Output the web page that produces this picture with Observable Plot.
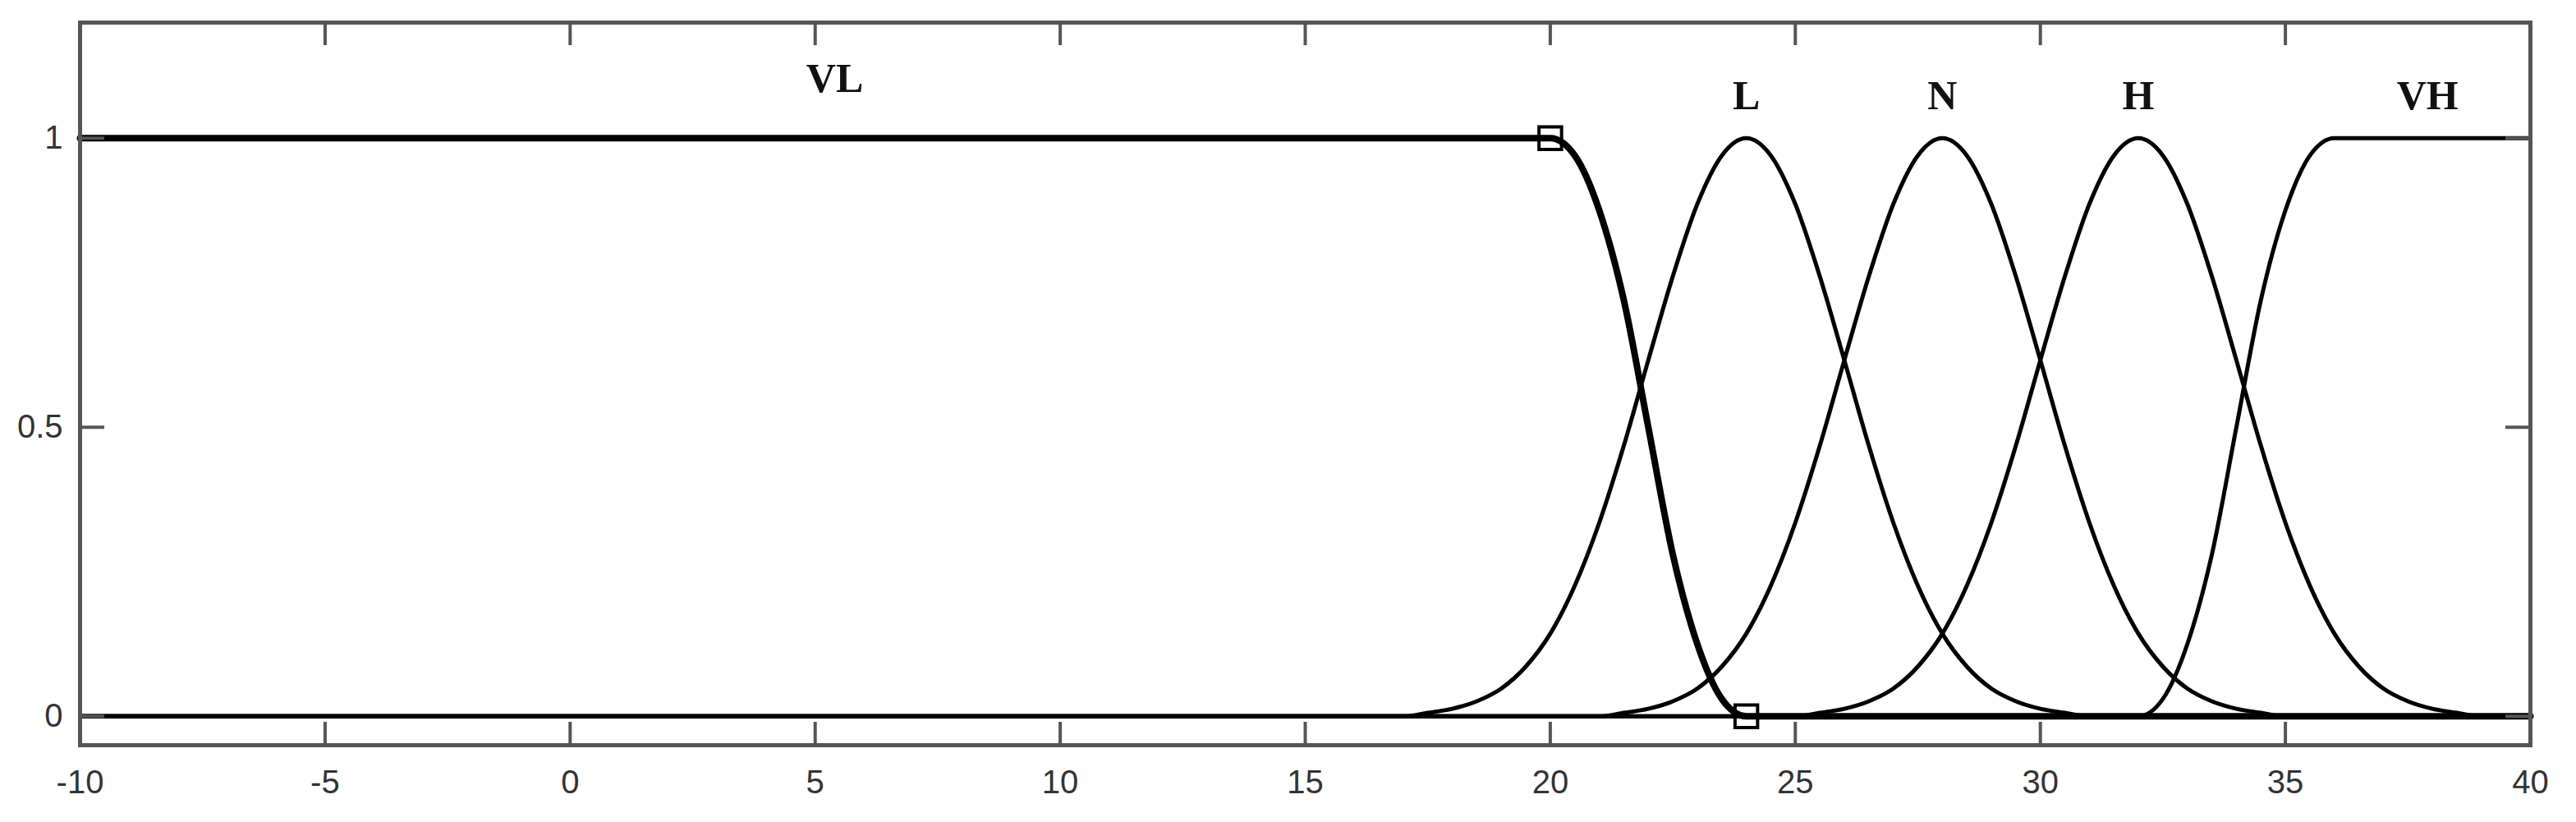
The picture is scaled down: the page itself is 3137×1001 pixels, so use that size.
<!DOCTYPE html>
<html>
<head>
<meta charset="utf-8">
<script src="https://cdn.jsdelivr.net/npm/d3@7"></script>
<script src="https://cdn.jsdelivr.net/npm/@observablehq/plot@0.6"></script>
<style>
  html, body { margin: 0; padding: 0; background: #fff; }
  #chart svg { display: block; }
</style>
</head>
<body>
<div id="chart"></div>
<script>
// ---- data ----
const xDomain = [-10, 40];
const yDomain = [-0.05, 1.2];
const xTicks = [-10, -5, 0, 5, 10, 15, 20, 25, 30, 35, 40];
const yTicks = [0, 0.5, 1];
const yTickLabels = ["0", "0.5", "1"];

// VL (selected, Z-shaped 20 -> 24)
const vlX = [-10, 20, 20.5, 21, 21.5, 22, 22.5, 23, 23.5, 24, 40];
const vlY = [1, 1, 0.97, 0.875, 0.72, 0.5, 0.28, 0.125, 0.03, 0, 0];

// L (bell centred at 24)
const lX = [-10, 17, 17.5, 18, 18.5, 19, 19.5, 20, 20.5, 21, 21.5, 22, 22.5, 23, 23.5, 24,
            24.5, 25, 25.5, 26, 26.5, 27, 27.5, 28, 28.5, 29, 29.5, 30, 30.5, 31, 40];
const lY = [0, 0, 0.006, 0.013, 0.026, 0.048, 0.086, 0.143, 0.226, 0.335, 0.468, 0.616, 0.761, 0.886, 0.97, 1,
            0.97, 0.886, 0.761, 0.616, 0.468, 0.335, 0.226, 0.143, 0.086, 0.048, 0.026, 0.013, 0.006, 0, 0];

// N (bell centred at 28)
const nX = [-10, 21, 21.5, 22, 22.5, 23, 23.5, 24, 24.5, 25, 25.5, 26, 26.5, 27, 27.5, 28,
            28.5, 29, 29.5, 30, 30.5, 31, 31.5, 32, 32.5, 33, 33.5, 34, 34.5, 35, 40];
const nY = [0, 0, 0.006, 0.013, 0.026, 0.048, 0.086, 0.143, 0.226, 0.335, 0.468, 0.616, 0.761, 0.886, 0.97, 1,
            0.97, 0.886, 0.761, 0.616, 0.468, 0.335, 0.226, 0.143, 0.086, 0.048, 0.026, 0.013, 0.006, 0, 0];

// H (bell centred at 32)
const hX = [-10, 25, 25.5, 26, 26.5, 27, 27.5, 28, 28.5, 29, 29.5, 30, 30.5, 31, 31.5, 32,
            32.5, 33, 33.5, 34, 34.5, 35, 35.5, 36, 36.5, 37, 37.5, 38, 38.5, 39, 40];
const hY = [0, 0, 0.006, 0.013, 0.026, 0.048, 0.086, 0.143, 0.226, 0.335, 0.468, 0.616, 0.761, 0.886, 0.97, 1,
            0.97, 0.886, 0.761, 0.616, 0.468, 0.335, 0.226, 0.143, 0.086, 0.048, 0.026, 0.013, 0.006, 0, 0];

// VH (S-shaped 32 -> 36)
const vhX = [-10, 32, 32.5, 33, 33.5, 34, 34.5, 35, 35.5, 36, 40];
const vhY = [0, 0, 0.03, 0.125, 0.28, 0.5, 0.72, 0.875, 0.97, 1, 1];

// handles of the selected MF
const handleX = [20, 24];
const handleY = [1, 0];

// membership function names and label anchors (data units)
const mfNames = ["VL", "L", "N", "H", "VH"];
const labelX = [5.4, 24, 28, 32, 37.9];
const labelY = [1.08, 1.05, 1.05, 1.05, 1.05];

// ---- build tables ----
const rows = (name, xs, ys) => xs.map((x, i) => ({mf: name, x, y: ys[i]}));
const thinRows = [
  ...rows("L", lX, lY),
  ...rows("N", nX, nY),
  ...rows("H", hX, hY),
  ...rows("VH", vhX, vhY)
];
const vlRows = rows("VL", vlX, vlY);
const handles = handleX.map((x, i) => ({x, y: handleY[i]}));
const labels = mfNames.map((name, i) => ({name, x: labelX[i], y: labelY[i]}));

// ---- layout ----
const W = 3137, H = 1001;
const mL = 97, mR = 56, mT = 27, mB = 94;
const frameW = W - mL - mR;
const frameH = H - mT - mB;
const axisGray = "#555";

const chart = Plot.plot({
  width: W,
  height: H,
  marginLeft: mL,
  marginRight: mR,
  marginTop: mT,
  marginBottom: mB,
  x: {domain: xDomain},
  y: {domain: yDomain},
  style: {background: "#fff", fontFamily: "'Liberation Sans', Arial, sans-serif"},
  marks: [
    Plot.line(thinRows, {x: "x", y: "y", z: "mf", stroke: "#000", strokeWidth: 5, curve: "monotone-x"}),
    Plot.line(vlRows, {x: "x", y: "y", stroke: "#000", strokeWidth: 8, curve: "monotone-x"}),
    Plot.dot(handles, {x: "x", y: "y", symbol: "square", r: 15.5, stroke: "#000", strokeWidth: 4, fill: "none"}),
    Plot.text(labels, {
      x: "x", y: "y", text: "name",
      fontFamily: "'Liberation Serif', 'Times New Roman', serif",
      fontWeight: "bold", fontSize: 50, fill: "#111",
      lineAnchor: "bottom", textAnchor: "middle"
    }),
    // inward ticks
    Plot.tickX(xTicks, {x: d => d, insetTop: frameH - 28, stroke: axisGray, strokeWidth: 4}),
    Plot.tickX(xTicks, {x: d => d, insetBottom: frameH - 28, stroke: axisGray, strokeWidth: 4}),
    Plot.tickY(yTicks, {y: d => d, insetRight: frameW - 30, stroke: axisGray, strokeWidth: 4}),
    Plot.tickY(yTicks, {y: d => d, insetLeft: frameW - 30, stroke: axisGray, strokeWidth: 4}),
    Plot.frame({stroke: axisGray, strokeWidth: 5}),
    Plot.axisX({ticks: xTicks, tickSize: 0, tickPadding: 30, fontSize: 40, color: "#333", label: null,
                tickFormat: d => String(d)}),
    Plot.axisY({ticks: yTicks, tickSize: 0, tickPadding: 21, fontSize: 40, color: "#333", label: null,
                tickFormat: d => yTickLabels[yTicks.indexOf(d)]})
  ]
});
document.getElementById("chart").appendChild(chart);
</script>
</body>
</html>
